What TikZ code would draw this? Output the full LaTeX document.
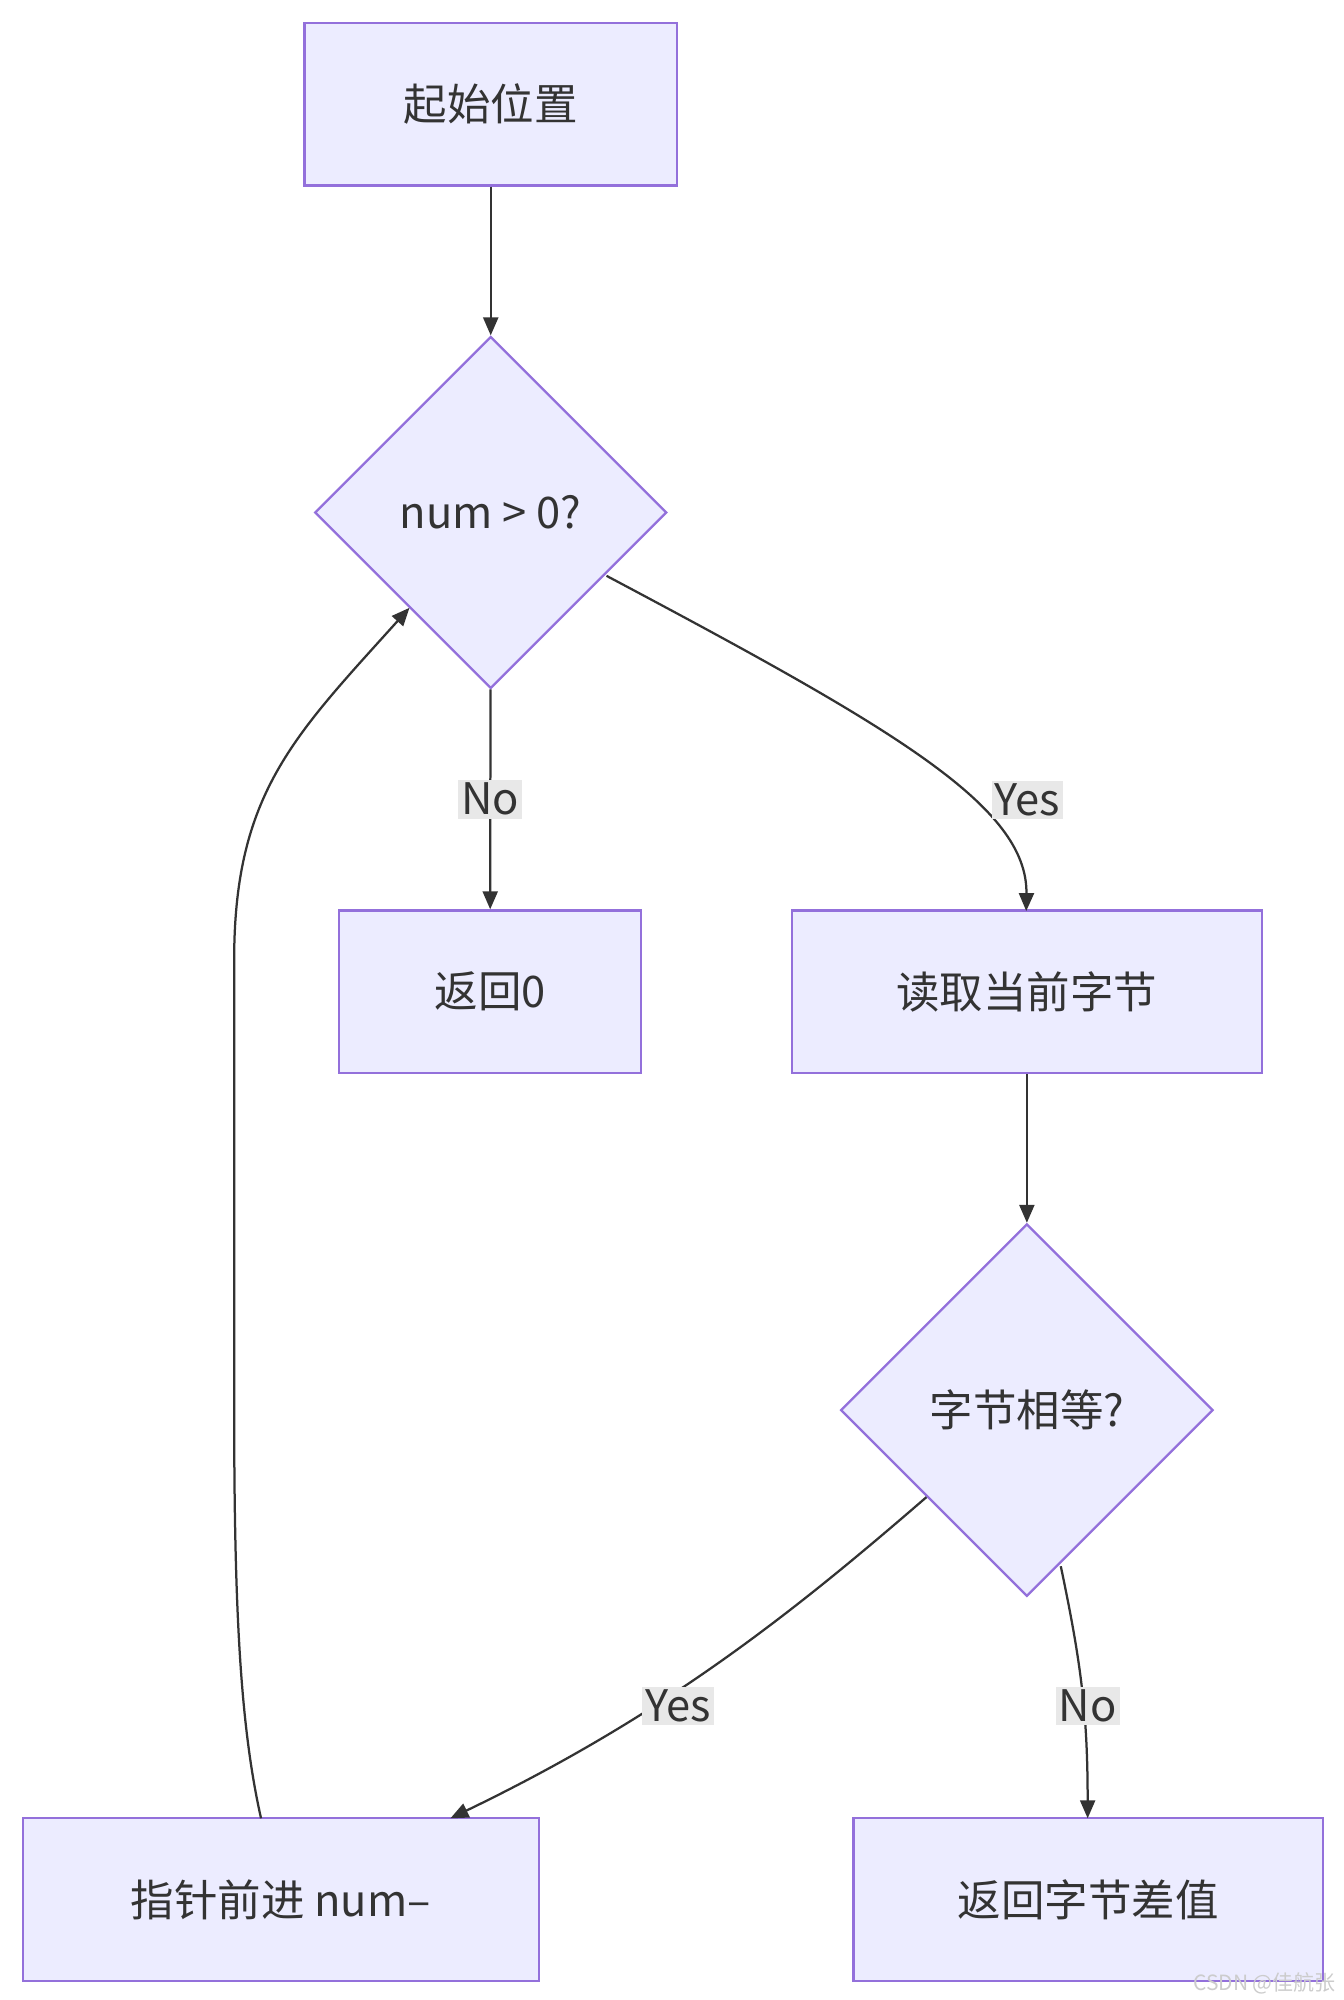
\documentclass[tikz,border=0pt]{standalone}
\usepackage{fontspec}
\setmainfont{Noto Sans CJK SC}
\usetikzlibrary{shapes.geometric,arrows.meta}
\definecolor{nfill}{HTML}{ECECFF}
\definecolor{nline}{HTML}{9370DB}
\definecolor{eline}{HTML}{333333}
\definecolor{lbg}{HTML}{E8E8E8}
\begin{document}
\begin{tikzpicture}[x=0.03cm,y=-0.03cm,
  font=\fontsize{29}{34}\selectfont,
  box/.style={draw=nline,fill=nfill,line width=1.5pt,text=eline,inner sep=0pt,minimum height=127*0.03cm},
  dia/.style={diamond,draw=nline,fill=nfill,line width=1.5pt,text=eline,inner sep=0pt},
  edge/.style={draw=eline,line width=1.5pt,-{Triangle[length=12pt,width=10pt]}},
  lab/.style={fill=lbg,text=eline,inner sep=2pt}]
\useasboundingbox (0,0) rectangle (1050,1563);
\fill[white] (0,0) rectangle (1050,1563);
\node[box,minimum width=291*0.03cm] (start) at (383.5,81.5) {起始位置};
\node[dia,minimum width=275*0.03cm,minimum height=275*0.03cm] (d1) at (383.5,400.5) {num > 0?};
\node[box,minimum width=236*0.03cm] (r0) at (383,775) {返回0};
\node[box,minimum width=367*0.03cm] (read) at (802.5,775) {读取当前字节};
\node[dia,minimum width=291*0.03cm,minimum height=291*0.03cm] (d2) at (802.5,1102) {字节相等?};
\node[box,minimum width=403*0.03cm] (adv) at (219.5,1484.5) {指针前进 num--};
\node[box,minimum width=367*0.03cm] (ret) at (850.5,1484.5) {返回字节差值};
\coordinate (a1) at (474,450);
\coordinate (a2) at (724,1170);
\coordinate (a3) at (829,1224);
\coordinate (a4) at (204,1421);
\coordinate (a5) at (320,475);
\coordinate (t1) at (802,712);
\coordinate (t2) at (352,1421);
\coordinate (t3) at (850,1421);
\path[edge] (start) -- (d1);
\path[edge] (d1) -- node[lab,pos=0.5]{No} (r0);
\path[edge] (a1) .. controls (700,570) and (803,630) .. (t1);
\node[lab] at (803,625) {Yes};
\path[edge] (read) -- (d2);
\path[edge] (a2) .. controls (620,1260) and (520,1340) .. (t2);
\node[lab] at (530,1333) {Yes};
\path[edge] (a3) .. controls (845,1300) and (850,1340) .. (t3);
\node[lab] at (850,1333) {No};
\path[edge] (a4) .. controls (188,1350) and (183,1260) .. (183,1100) -- (183,750) .. controls (183,620) and (230,575) .. (a5);
\node[text=gray!40,font=\fontsize{14}{16}\selectfont,anchor=east] (wm) at (1048,1550) {CSDN @佳航张};
\end{tikzpicture}
\end{document}
